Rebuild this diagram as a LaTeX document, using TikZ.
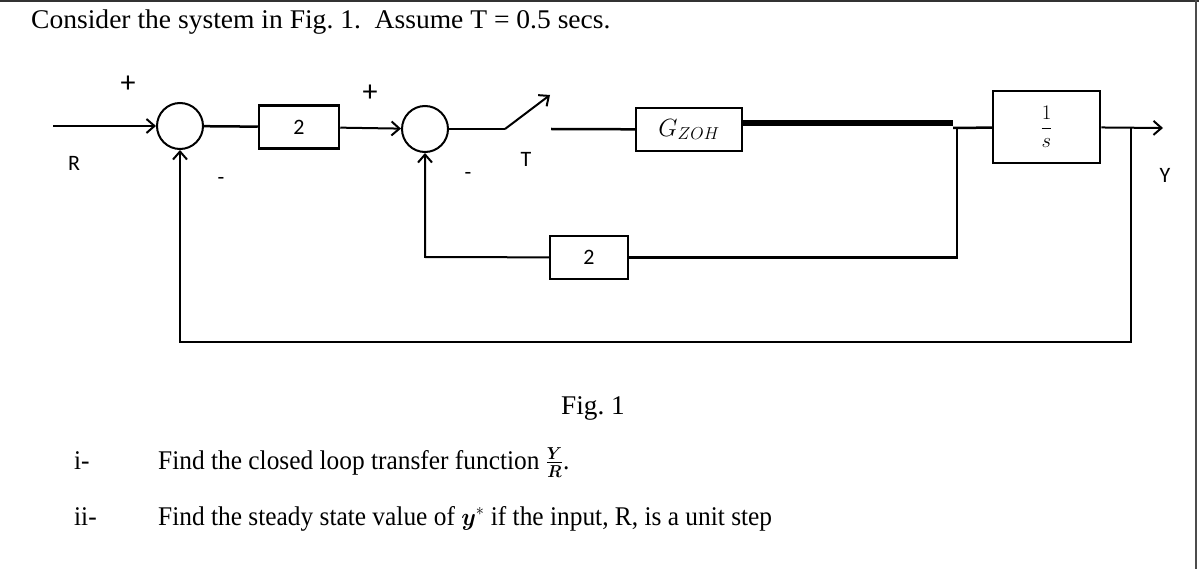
\documentclass[tikz,border=0pt]{standalone}
\usepackage{amsmath,bm}
\usepackage{fontspec}
\setmainfont{Liberation Serif}
\newfontfamily\diag{Carlito}
\usetikzlibrary{arrows.meta}
\begin{document}
\begin{tikzpicture}[x=1pt,y=-1pt,
  blk/.style={draw,line width=2.5pt,minimum width=#1,inner sep=0pt,font=\diag\fontsize{22}{22}\selectfont},
  sum/.style={draw,circle,line width=2pt,minimum size=46pt,inner sep=0pt},
  wire/.style={line width=2.5pt},
  arr/.style={line width=2pt,-{Straight Barb[length=8pt,width=14pt,line width=2pt]}},
  lab/.style={font=\diag\fontsize{22}{22}\selectfont},
  txt/.style={font=\fontsize{27}{27}\selectfont,anchor=base west,inner sep=0pt}]
\useasboundingbox (0,0) rectangle (1199,569);
\draw[line width=3pt,black!80] (0,1) -- (1199,1);
\draw[line width=2pt,black!70] (1196,0) -- (1196,569);
\node[txt,xscale=1.02] (title) at (31,29) {Consider the system in Fig.~1.\ \ Assume T = 0.5 secs.};
% nodes
\coordinate (in) at (53,126);
\node[sum] (s1) at (180,126) {};
\node[blk=80pt,minimum height=43pt] (g1) at (299,127) {2};
\node[sum] (s2) at (425,129) {};
\coordinate (sw1) at (505,129);
\coordinate (sw2) at (550,95);
\coordinate (sw3) at (551,129);
\node[blk=106pt,minimum height=43pt,font=\fontsize{24}{24}\selectfont] (zoh) at (689,129.5) {$G_{ZOH}$};
\coordinate (j1) at (953,123);
\coordinate (j2) at (957,128);
\node[blk=107pt,minimum height=72pt,font=\fontsize{22}{22}\selectfont] (int) at (1046.5,127) {$\dfrac{1}{s}$};
\coordinate (out) at (1163,128);
\coordinate (j3) at (1131,128);
\node[blk=78pt,minimum height=43pt] (h) at (589,257.5) {2};
\coordinate (c1) at (1131,342);
\coordinate (c2) at (180,342);
\coordinate (c3) at (425,257);
% connectors
\draw[arr] (in) -- (s1);
\draw[wire] (s1) -- (g1);
\draw[arr] (g1) -- (s2);
\draw[wire] (s2) -- (sw1);
\draw[arr] (sw1) -- (sw2);
\draw[wire] (sw3) -- (zoh);
\draw[line width=6pt] (zoh.east |- j1) -- (j1);
\draw[wire] (j2 -| j1) -- (int);
\draw[arr] (int) -- (out);
\draw[wire] (j2) -- (j2 |- h) -- (h);
\draw[arr] (h) -- (c3) -- (s2);
\draw[arr] (j3) -- (c1) -- (c2) -- (s1);
% labels
\node[lab,font=\diag\fontsize{30}{30}\selectfont] (p1) at (128,84) {+};
\node[lab,font=\diag\fontsize{30}{30}\selectfont] (p2) at (370,93) {+};
\node[lab] (m1) at (221,181) {-};
\node[lab] (m2) at (468,176) {-};
\node[lab] (lT) at (526,159) {T};
\node[lab] (lR) at (74,163) {R};
\node[lab] (lY) at (1165,175) {Y};
% text
\node[txt,xscale=1.01] (fig) at (561,414) {Fig.~1};
\node[txt,xscale=0.94] (i) at (74,469) {i-};
\node[txt,xscale=0.94] (q1) at (158,469) {Find the closed loop transfer function $\frac{\bm{Y}}{\bm{R}}$.};
\node[txt,xscale=0.94] (ii) at (74,525) {ii-};
\node[txt,xscale=0.94] (q2) at (158,525) {Find the steady state value of $\bm{y}^{*}$ if the input, R, is a unit step};
\end{tikzpicture}
\end{document}
